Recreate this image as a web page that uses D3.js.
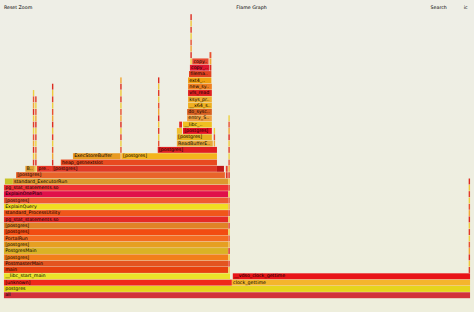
<!DOCTYPE html>
<html>
<head>
<meta charset="utf-8">
<script src="https://cdn.jsdelivr.net/npm/d3@7"></script>
<style>
html,body{margin:0;padding:0;background:#eeeee2;}
svg{display:block;}
</style>
</head>
<body>
<svg id="chart" width="474" height="312"></svg>
<script>
// ---- data (sample counts, total = 1000) ----
const totalSamples = 1000;
const maxDepth = 45;
const frameNames = [
  "all","postgres","[unknown]","clock_gettime","__libc_start_main","__vdso_clock_gettime",
  "main","PostmasterMain","[postgres]","PostgresMain","[postgres]","PortalRun","[postgres]","[postgres]",
  "pg_stat_statements.so","standard_ProcessUtility","ExplainQuery","[postgres]","ExplainOnePlan",
  "pg_stat_statements.so","[postgres]","standard_ExecutorRun","[postgres]","[postgres]",
  "B..","pre..","[postgres]","[postgres]","[postgres]","heap_getnextslot",
  "ExecStoreBuffer","[postgres]","[postgres]","ReadBufferE..","[postgres]",
  "[postgres]","[postgres]","[postgres]","__libc_..","entry_S..","do_sysc..","__x64_s..",
  "ksys_pr..","vfs_read","new_sy..","ext4_..","filema..","copy_..","copy.."
];
const frameDepths = [
  0,1,2,2,3,3,
  4,5,6,7,8,9,10,11,
  12,13,14,15,16,
  17,18,18,19,19,
  20,20,20,20,20,21,
  22,22,23,24,25,
  26,26,27,27,28,29,30,
  31,32,33,34,35,36,37
];
const frameStarts = [
  0,0,0,489,0,491,
  0,0,0,0,0,0,0,0,
  0,0,0,0,0,
  0,2,19,26,476,
  46,71,103,457,476,122,
  148,253,330,371,371,
  371,384,376,384,393,393,395,
  395,395,395,395,397,399,404
];
const frameSamples = [
  1000,1000,489,511,485,509,
  481,481,481,481,481,481,481,481,
  481,481,481,481,481,
  481,17,462,448,4,
  20,32,354,15,4,335,
  101,204,127,77,75,
  11,62,6,62,53,53,51,
  51,51,51,50,48,41,35
];
// thin towers: [start, samples, fromDepth, toDepth]
const towerStarts  = [62, 67, 103, 249.5, 330.5, 481.5, 997, 400, 441, 450];
const towerSamples = [3, 3, 3, 3, 3, 3, 3, 3, 4, 3];
const towerFrom    = [21, 20, 21, 22, 24, 4, 4, 37, 36, 24];
const towerTo      = [32, 31, 33, 34, 34, 28, 18, 44, 38, 26];
const headerLabels = ["Reset Zoom","Flame Graph","Search","ic"];

// ---- styles ----
const frameColors = [
  "#d2303a","#e6d41c","#f02a1a","#f5b52c","#ebe42a","#e81418",
  "#e8420e","#e35420","#f27f1a","#dab225","#e69f22","#f46c22","#f24c12","#e08326",
  "#e42a26","#f0561a","#f1dd22","#ef5a32","#e0104a",
  "#f03434","#c8c428","#dd9a2e","#e8642a","#e03020",
  "#e0a030","#e83828","#e03a26","#c01818","#e8402a","#e84a20",
  "#e89a22","#f4b41c","#e01e20","#e8a838","#e8b020",
  "#f0c030","#e81020","#e02828","#f0c020","#f0a040","#d86020","#f0b020",
  "#f0b030","#e02020","#f08020","#f0a010","#e04020","#e01830","#e84a30"
];
const towerPalette = ["#e23a26","#f0c83a","#dd2c20","#f2a634","#e85030","#eed040"];

// ---- build frame list ----
const frames = frameNames.map((n,i)=>({name:n, depth:frameDepths[i], start:frameStarts[i], samples:frameSamples[i], color:frameColors[i]}));
towerStarts.forEach((s,t)=>{
  for(let d=towerFrom[t], k=0; d<=towerTo[t]; d++, k++){
    frames.push({name:"", depth:d, start:s, samples:towerSamples[t], color:towerPalette[(k+t)%towerPalette.length]});
  }
});

const svg = d3.select("#chart");
const W = 474, H = 312;

// background
const defs = svg.append("defs");
const grad = defs.append("linearGradient").attr("id","bg").attr("x1",0).attr("x2",0).attr("y1",0).attr("y2",1);
grad.append("stop").attr("offset","5%").attr("stop-color","#eeeee6");
grad.append("stop").attr("offset","95%").attr("stop-color","#eeeedc");
svg.append("rect").attr("width",W).attr("height",H).attr("fill","url(#bg)");

const x = d3.scaleLinear().domain([0,totalSamples]).range([3.95,470.05]);
const y = d3.scaleLinear().domain([0,maxDepth]).range([298.6, 298.6-maxDepth*6.32]);
const gap = 0.4;
const fontSize = 4.74;
const charW = fontSize*0.55;
const minLabelW = 3*fontSize*0.59 + 0.2;

const g = svg.append("g");
const fg = g.selectAll("g.frame").data(frames).join("g").attr("class","frame");
fg.append("rect")
  .attr("x",d=>x(d.start))
  .attr("y",d=>y(d.depth+1))
  .attr("width",d=>Math.max(0.4, x(d.start+d.samples)-x(d.start)))
  .attr("height",d=>y(d.depth)-y(d.depth+1)-gap)
  .attr("fill",d=>d.color);
fg.filter(d=>d.name && (x(d.start+d.samples)-x(d.start)) >= minLabelW)
  .append("text")
  .attr("x",d=>x(d.start)+1.2)
  .attr("y",d=>y(d.depth+1)+4.15)
  .attr("font-family","Verdana, 'DejaVu Sans', sans-serif")
  .attr("font-size",fontSize)
  .attr("fill","#000")
  .text(d=>{
    const w = x(d.start+d.samples)-x(d.start);
    const chars = Math.floor(w/charW);
    return d.name.length <= chars ? d.name : d.name.slice(0, Math.max(1,chars-2))+"..";
  });

// header
const hdr = svg.append("g").attr("font-family","Verdana, 'DejaVu Sans', sans-serif").attr("font-size",fontSize).attr("fill","#000");
hdr.append("text").attr("x",3.95).attr("y",9.3).text(headerLabels[0]);
hdr.append("text").attr("x",251.5).attr("y",9.3).attr("text-anchor","middle").text(headerLabels[1]);
hdr.append("text").attr("x",430.6).attr("y",9.3).text(headerLabels[2]);
hdr.append("text").attr("x",463.7).attr("y",9.3).text(headerLabels[3]);
</script>
</body>
</html>
